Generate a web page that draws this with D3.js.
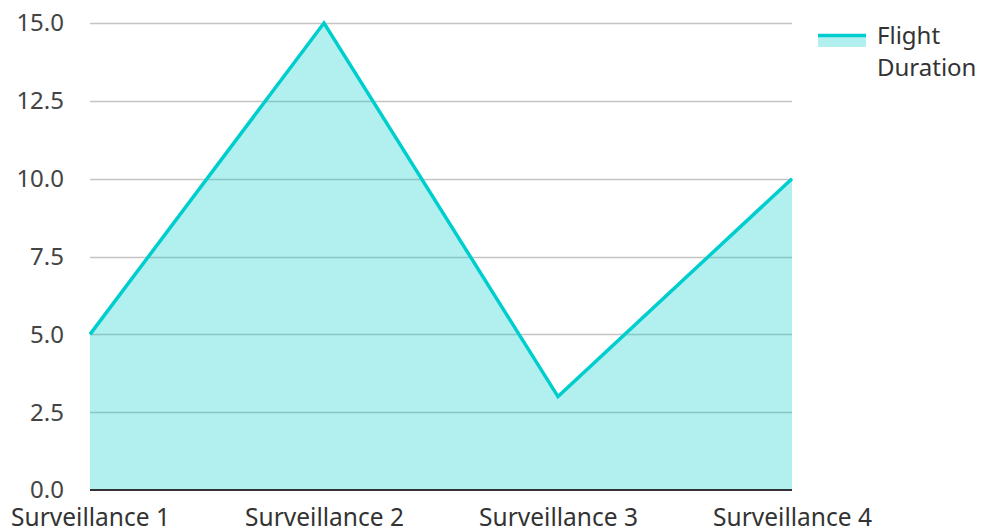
<!doctype html>
<html>
<head>
<meta charset="utf-8">
<script src="https://d3js.org/d3.v7.min.js"></script>
<style>
  body { margin: 0; background: #fff; }
  svg { display: block; font-family: "Noto Sans", sans-serif; }
</style>
</head>
<body>
<svg id="chart" width="982" height="531"></svg>
<script>
// data
var categories = ["Surveillance 1", "Surveillance 2", "Surveillance 3", "Surveillance 4"];
var flightDuration = [5, 15, 3, 10];
var yTicks = [0, 2.5, 5, 7.5, 10, 12.5, 15];
var seriesName = ["Flight", "Duration"];

var margin = { top: 23, right: 190, bottom: 41, left: 90 };
var width = 982, height = 531;

var svg = d3.select("#chart");

var x = d3.scalePoint()
  .domain(categories)
  .range([margin.left, width - margin.right]);

var y = d3.scaleLinear()
  .domain([0, 15])
  .range([height - margin.bottom, margin.top]);

var lineColor = "#00cece";

// gridlines
svg.append("g")
  .selectAll("line")
  .data(yTicks.slice(1))
  .enter().append("line")
  .attr("x1", margin.left)
  .attr("x2", width - margin.right)
  .attr("y1", function(d) { return Math.round(y(d)) + 0.5; })
  .attr("y2", function(d) { return Math.round(y(d)) + 0.5; })
  .attr("stroke", "#c4c4c4")
  .attr("stroke-width", 1.5);

// area + line
var area = d3.area()
  .x(function(d, i) { return x(categories[i]); })
  .y0(y(0))
  .y1(function(d) { return y(d); });

var line = d3.line()
  .x(function(d, i) { return x(categories[i]); })
  .y(function(d) { return y(d); });

svg.append("path")
  .attr("d", area(flightDuration))
  .attr("fill", lineColor)
  .attr("fill-opacity", 0.3);

svg.append("path")
  .attr("d", line(flightDuration))
  .attr("fill", "none")
  .attr("stroke", lineColor)
  .attr("stroke-width", 3.5)
  .attr("stroke-linejoin", "miter");

// y tick labels
svg.append("g")
  .selectAll("text")
  .data(yTicks)
  .enter().append("text")
  .attr("x", 64)
  .attr("y", function(d) { return y(d); })
  .attr("dy", "0.35em")
  .attr("text-anchor", "end")
  .attr("fill", "#444")
  .style("font-size", "24px")
  .text(function(d) { return d3.format(".1f")(d); });

// x axis
var xAxis = svg.append("g")
  .attr("transform", "translate(0," + y(0) + ")")
  .call(d3.axisBottom(x).tickSize(0).tickPadding(19));
xAxis.select(".domain")
  .attr("stroke", "#333")
  .attr("stroke-width", 2)
  .attr("d", "M" + margin.left + ",0H" + (width - margin.right));
xAxis.selectAll("text")
  .attr("fill", "#333")
  .style("font-size", "24.5px")
  .style("font-family", "Noto Sans");

// legend
var lg = svg.append("g").attr("transform", "translate(818,34)");
lg.append("rect")
  .attr("x", 0).attr("y", 0)
  .attr("width", 48).attr("height", 13)
  .attr("fill", lineColor).attr("fill-opacity", 0.3);
lg.append("line")
  .attr("x1", 0).attr("x2", 48)
  .attr("y1", 1.5).attr("y2", 1.5)
  .attr("stroke", lineColor).attr("stroke-width", 3.5);
lg.append("text")
  .attr("x", 59)
  .attr("y", 10)
  .attr("fill", "#333")
  .style("font-size", "24px")
  .selectAll("tspan")
  .data(seriesName)
  .enter().append("tspan")
  .attr("x", 59)
  .attr("dy", function(d, i) { return i === 0 ? 0 : "1.35em"; })
  .text(function(d) { return d; });
</script>
</body>
</html>
